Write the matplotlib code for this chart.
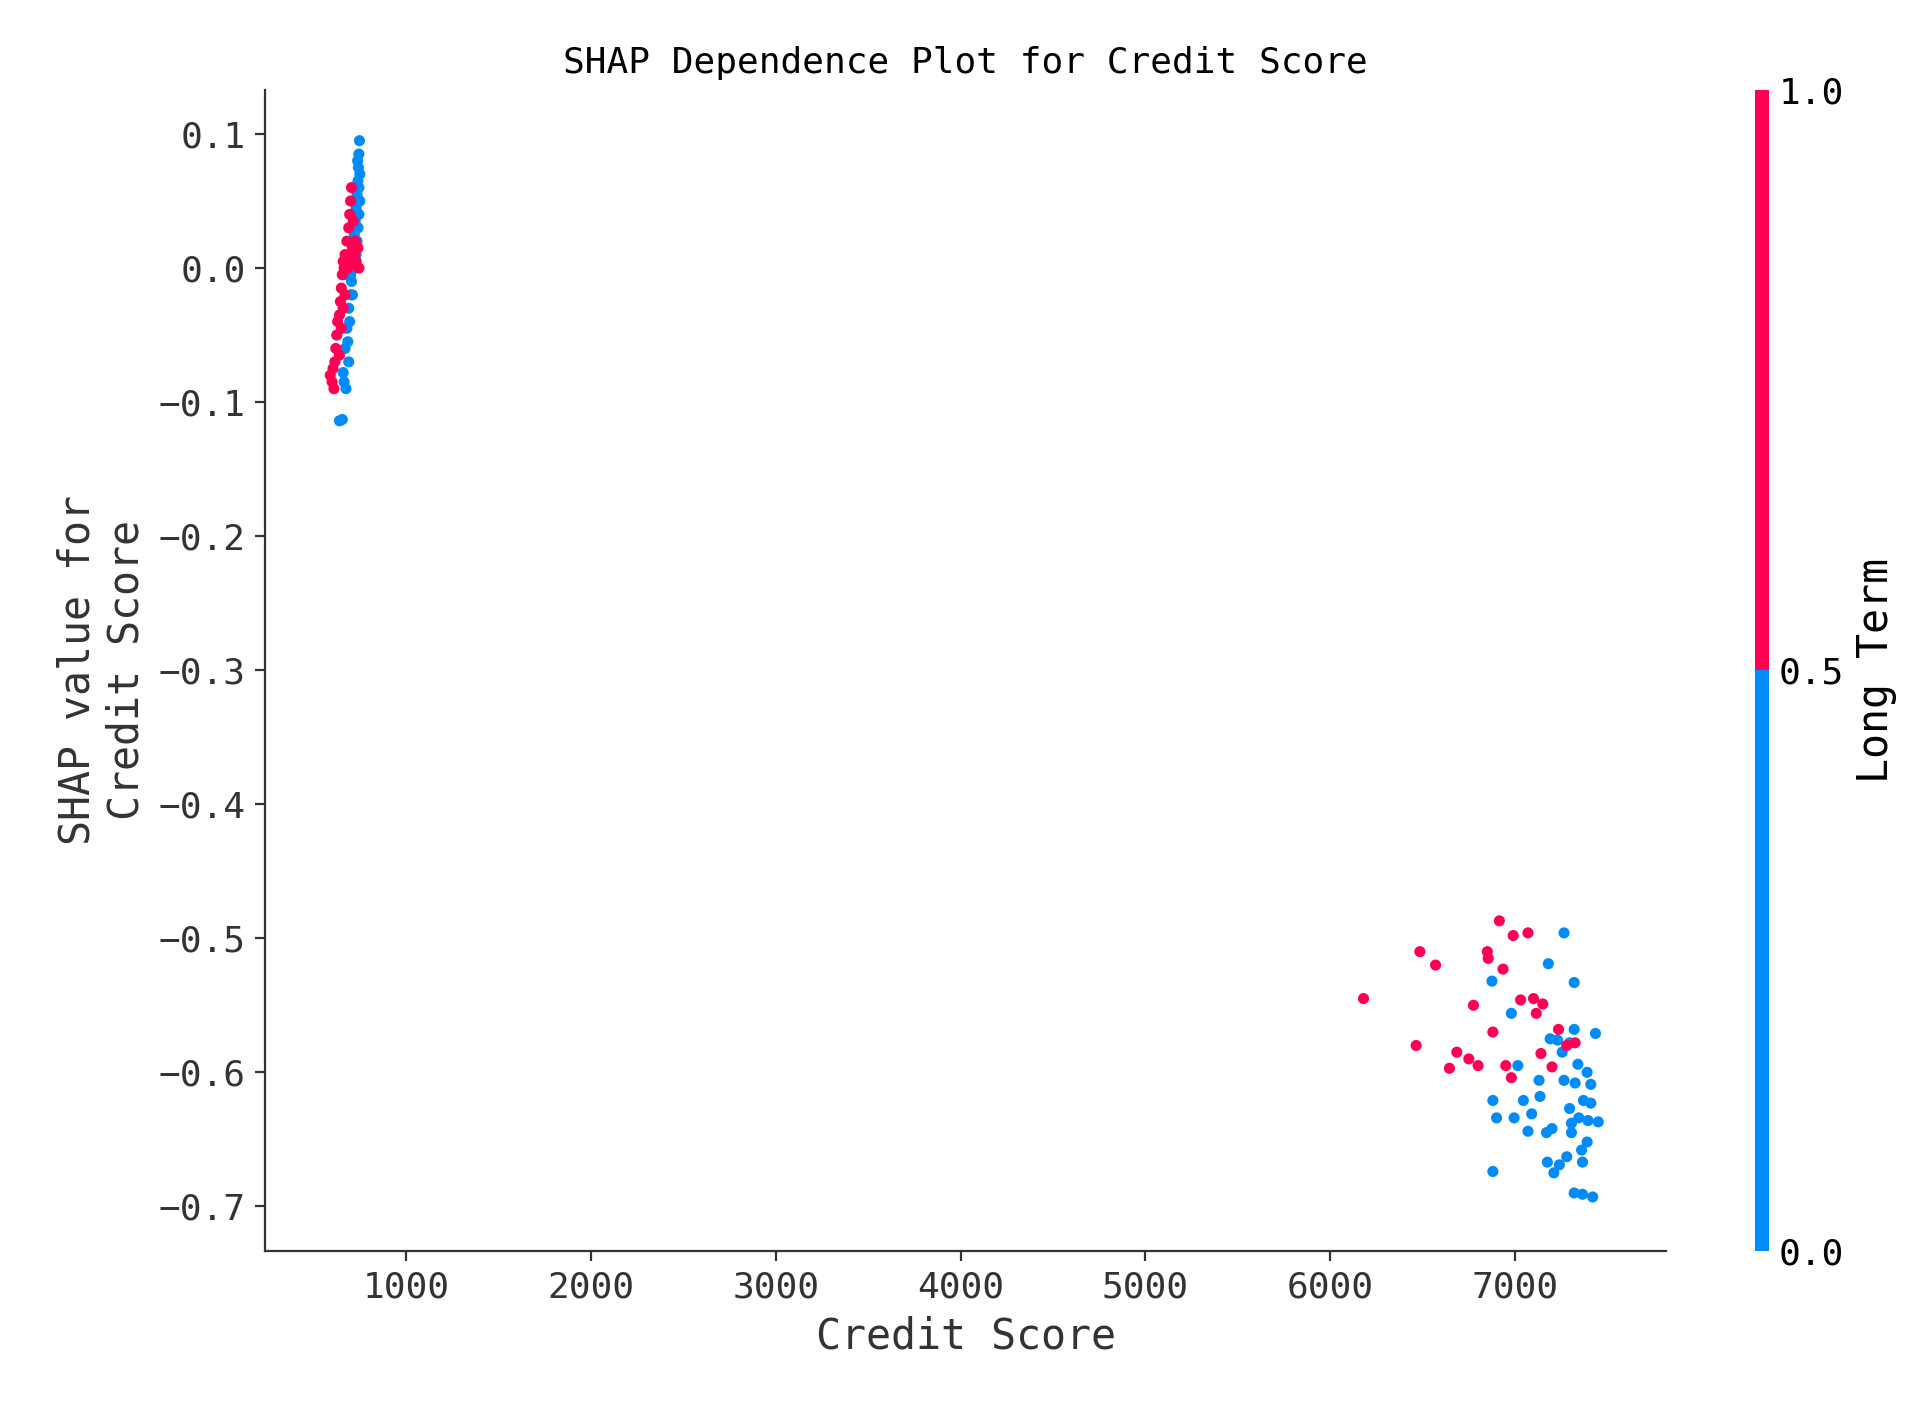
import matplotlib
matplotlib.use("Agg")
import matplotlib.pyplot as plt
from matplotlib.colors import ListedColormap
import numpy as np

plt.rcParams['font.family'] = ['DejaVu Sans Mono', 'DejaVu Sans']
plt.rcParams['axes.unicode_minus'] = True

BLUE = "#008bfb"
RED = "#ff0052"

# left cluster (Long Term = 0 / 1)
left_blue_x = [640, 655, 660, 665, 670, 680, 690, 700, 700, 705, 710, 715, 720, 725, 730, 735,
               740, 742, 745, 748, 735, 740, 745, 730, 750, 750, 745, 738, 725, 710, 695, 685,
               680, 690, 675]
left_blue_y = [-0.114, -0.113, -0.078, -0.085, -0.06, -0.045, -0.03, -0.02, -0.005, -0.01, 0.005,
               0.015, 0.025, 0.035, 0.045, 0.055, 0.065, 0.075, 0.085, 0.095, 0.02, 0.03, 0.04,
               0.01, 0.05, 0.07, 0.06, 0.08, 0.0, -0.02, -0.04, -0.055, -0.005, -0.07, -0.09]
left_red_x = [590, 600, 610, 605, 615, 620, 625, 630, 640, 645, 650, 655, 660, 665, 670, 680,
              690, 695, 700, 705, 710, 720, 730, 740, 745, 715, 640, 650, 660, 670, 685, 700, 725]
left_red_y = [-0.08, -0.085, -0.09, -0.075, -0.07, -0.06, -0.05, -0.04, -0.035, -0.025, -0.015,
              -0.005, 0.005, 0.0, 0.01, 0.02, 0.03, 0.04, 0.05, 0.06, 0.015, 0.01, 0.005, 0.015,
              0.0, 0.035, -0.065, -0.045, -0.03, -0.02, 0.0, 0.005, 0.02]

# right cluster
right_red_x = [6180, 6465, 6485, 6570, 6645, 6685, 6750, 6775, 6800, 6850, 6855, 6880, 6915, 6935,
               6950, 6980, 6990, 7030, 7070, 7100, 7115, 7150, 7140, 7200, 7235, 7325, 7280]
right_red_y = [-0.545, -0.58, -0.51, -0.52, -0.597, -0.585, -0.59, -0.55, -0.595, -0.51, -0.515,
               -0.57, -0.487, -0.523, -0.595, -0.604, -0.498, -0.546, -0.496, -0.545, -0.556,
               -0.549, -0.586, -0.596, -0.568, -0.578, -0.58]
right_blue_x = [6875, 6880, 6880, 6900, 6980, 6995, 7015, 7045, 7070, 7090, 7130, 7135, 7170, 7180,
                7190, 7200, 7175, 7210, 7230, 7240, 7255, 7265, 7265, 7280, 7295, 7305, 7305, 7320,
                7320, 7320, 7340, 7345, 7360, 7365, 7365, 7370, 7390, 7390, 7395, 7410, 7410, 7420,
                7435, 7450, 7325, 7295]
right_blue_y = [-0.532, -0.621, -0.674, -0.634, -0.556, -0.634, -0.595, -0.621, -0.644, -0.631,
                -0.606, -0.618, -0.645, -0.519, -0.575, -0.642, -0.667, -0.675, -0.576, -0.669,
                -0.585, -0.496, -0.606, -0.663, -0.627, -0.638, -0.645, -0.568, -0.533, -0.69,
                -0.594, -0.634, -0.658, -0.667, -0.691, -0.621, -0.6, -0.652, -0.636, -0.609,
                -0.623, -0.693, -0.571, -0.637, -0.608, -0.578]

x = np.array(left_blue_x + right_blue_x + left_red_x + right_red_x, dtype=float)
y = np.array(left_blue_y + right_blue_y + left_red_y + right_red_y)
c = np.array([0] * (len(left_blue_x) + len(right_blue_x)) + [1] * (len(left_red_x) + len(right_red_x)))

cmap = ListedColormap([BLUE, RED])

fig = plt.figure(figsize=(9.665, 7.01), dpi=200)
ax = fig.add_axes([0.137, 0.108, 0.725, 0.828])
sc = ax.scatter(x, y, c=c, cmap=cmap, vmin=0, vmax=1, s=16, linewidths=0, rasterized=False)
ax.set_xlim(236, 7818)
ax.set_ylim(-0.733, 0.133)
ax.set_xticks([1000, 2000, 3000, 4000, 5000, 6000, 7000])
ax.set_yticks([0.1, 0.0, -0.1, -0.2, -0.3, -0.4, -0.5, -0.6, -0.7])
ax.spines['top'].set_visible(False)
ax.spines['right'].set_visible(False)
for s in ['left', 'bottom']:
    ax.spines[s].set_color('#333333')
ax.tick_params(labelsize=13, colors='#333333', labelcolor='#333333')
ax.set_xlabel("Credit Score", fontsize=15, color='#333333')
ax.set_ylabel("SHAP value for\nCredit Score", fontsize=15, color='#333333')
ax.set_title("SHAP Dependence Plot for Credit Score", fontsize=13)

cax = fig.add_axes([0.908, 0.108, 0.007, 0.828])
cb = fig.colorbar(sc, cax=cax, ticks=[0.0, 0.5, 1.0])
cb.outline.set_visible(False)
cb.ax.tick_params(labelsize=13, length=0)
cb.set_label("Long Term", fontsize=15)

fig.savefig("out.png", dpi=200)
